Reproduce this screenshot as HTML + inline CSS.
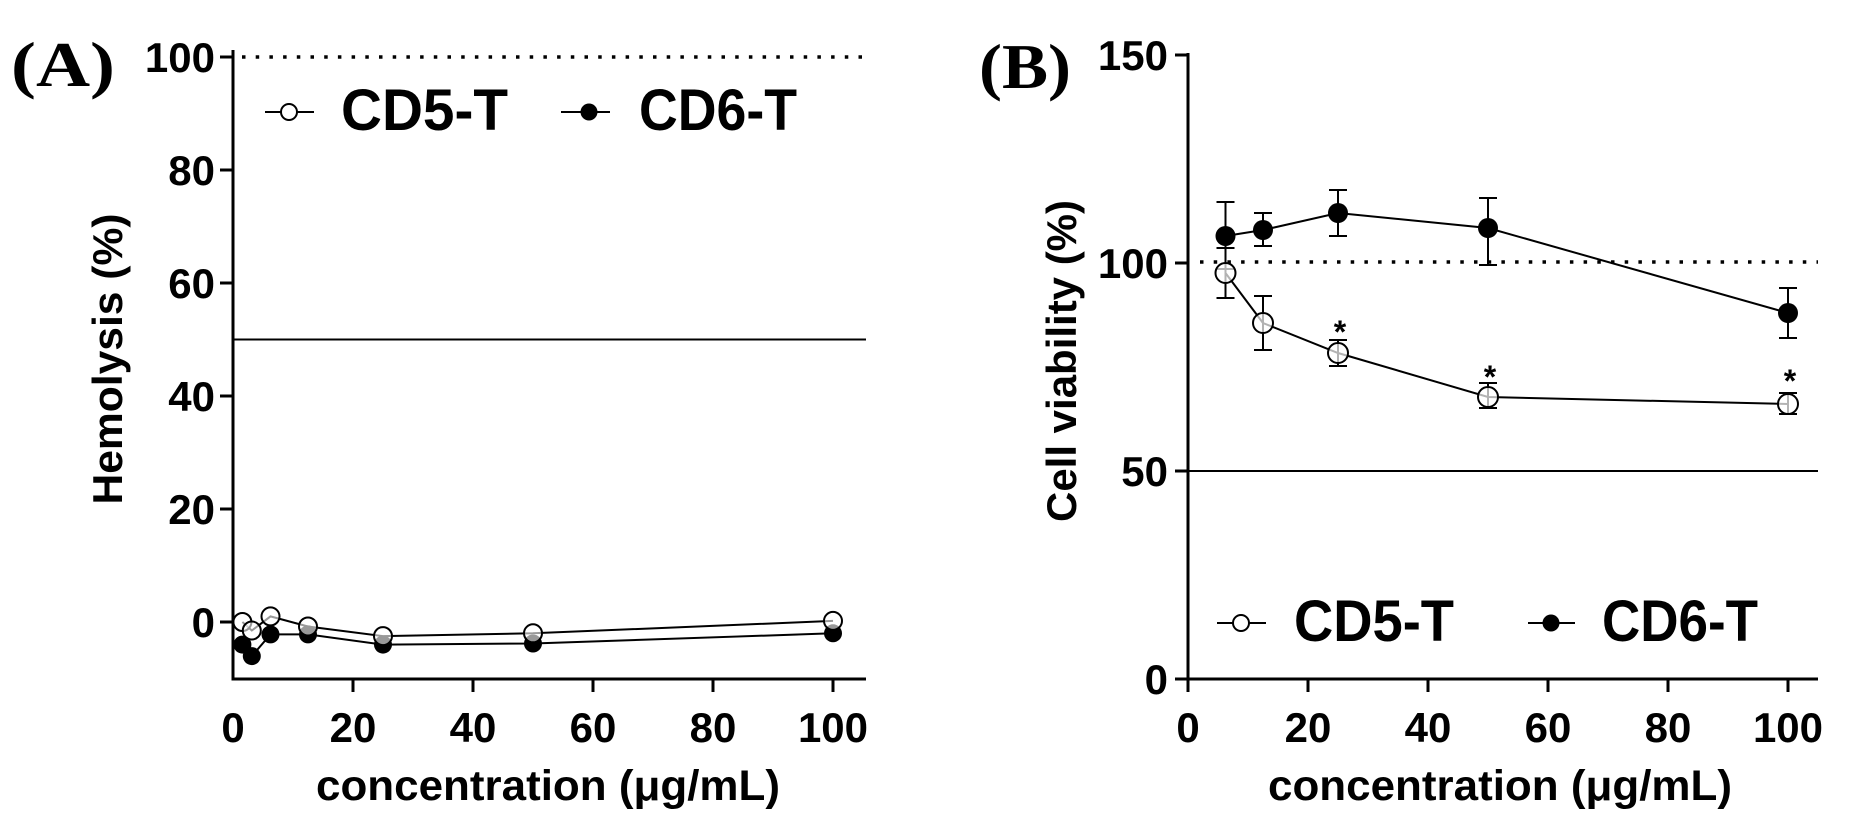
<!DOCTYPE html>
<html><head><meta charset="utf-8"><style>
html,body{margin:0;padding:0;background:#fff;}
svg{display:block;}
text{font-family:"Liberation Sans",Arial,sans-serif;font-weight:bold;fill:#000;}
</style></head><body>
<svg width="1871" height="837" viewBox="0 0 1871 837" xmlns="http://www.w3.org/2000/svg">
<!-- ===== Panel A ===== -->
<text x="11" y="86" style="font-family:'Liberation Serif',serif;font-size:64px" textLength="104" lengthAdjust="spacingAndGlyphs">(A)</text>
<g stroke="#000" stroke-width="3" fill="none">
  <line x1="233" y1="50" x2="233" y2="680"/>
  <line x1="231.5" y1="679" x2="866" y2="679"/>
  <line x1="220" y1="57" x2="233" y2="57"/>
  <line x1="220" y1="170" x2="233" y2="170"/>
  <line x1="220" y1="283" x2="233" y2="283"/>
  <line x1="220" y1="396" x2="233" y2="396"/>
  <line x1="220" y1="509" x2="233" y2="509"/>
  <line x1="220" y1="622" x2="233" y2="622"/>
  <line x1="353" y1="679" x2="353" y2="692"/>
  <line x1="473" y1="679" x2="473" y2="692"/>
  <line x1="593" y1="679" x2="593" y2="692"/>
  <line x1="713" y1="679" x2="713" y2="692"/>
  <line x1="833" y1="679" x2="833" y2="692"/>
</g>
<line x1="242" y1="57" x2="866" y2="57" stroke="#000" stroke-width="3.5" stroke-dasharray="3.5 10.2"/>
<line x1="233" y1="339.5" x2="866" y2="339.5" stroke="#000" stroke-width="2"/>
<g font-size="42" text-anchor="end">
  <text x="215" y="72">100</text>
  <text x="215" y="185">80</text>
  <text x="215" y="298">60</text>
  <text x="215" y="411">40</text>
  <text x="215" y="524">20</text>
  <text x="215" y="637">0</text>
</g>
<g font-size="42" text-anchor="middle">
  <text x="233" y="742">0</text>
  <text x="353" y="742">20</text>
  <text x="473" y="742">40</text>
  <text x="593" y="742">60</text>
  <text x="713" y="742">80</text>
  <text x="833" y="742">100</text>
</g>
<text x="548" y="800" font-size="43" text-anchor="middle" textLength="464" lengthAdjust="spacingAndGlyphs">concentration (μg/mL)</text>
<text transform="translate(122,359) rotate(-90)" font-size="42" text-anchor="middle" textLength="291" lengthAdjust="spacingAndGlyphs">Hemolysis (%)</text>
<!-- A data -->
<polyline points="242.4,644.6 251.8,656.1 270.5,634.4 308,634.4 383,644.6 533,643.5 833,633.3" fill="none" stroke="#000" stroke-width="2"/>
<polyline points="242.4,622 251.8,630.5 270.5,616.4 308,626.5 383,636.1 533,633.3 833,620.9" fill="none" stroke="#000" stroke-width="2"/>
<g fill="#000">
  <circle cx="242.4" cy="644.6" r="9"/><circle cx="251.8" cy="656.1" r="9"/><circle cx="270.5" cy="634.4" r="9"/><circle cx="308" cy="634.4" r="9"/><circle cx="383" cy="644.6" r="9"/><circle cx="533" cy="643.5" r="9"/><circle cx="833" cy="633.3" r="9"/>
</g>
<g fill="#fff" fill-opacity="0.6" stroke="#000" stroke-width="2">
  <circle cx="242.4" cy="622" r="9"/><circle cx="251.8" cy="630.5" r="9"/><circle cx="270.5" cy="616.4" r="9"/><circle cx="308" cy="626.5" r="9"/><circle cx="383" cy="636.1" r="9"/><circle cx="533" cy="633.3" r="9"/><circle cx="833" cy="620.9" r="9"/>
</g>
<!-- A legend -->
<line x1="265" y1="112" x2="314" y2="112" stroke="#000" stroke-width="2"/>
<circle cx="289" cy="112" r="8" fill="#fff" stroke="#000" stroke-width="2"/>
<text x="341" y="130" font-size="58" textLength="167" lengthAdjust="spacingAndGlyphs">CD5-T</text>
<line x1="561" y1="112" x2="610" y2="112" stroke="#000" stroke-width="2"/>
<circle cx="589" cy="112" r="8.5" fill="#000"/>
<text x="639" y="130" font-size="58" textLength="158" lengthAdjust="spacingAndGlyphs">CD6-T</text>

<!-- ===== Panel B ===== -->
<text x="979" y="88" style="font-family:'Liberation Serif',serif;font-size:64px" textLength="92" lengthAdjust="spacingAndGlyphs">(B)</text>
<g stroke="#000" stroke-width="3" fill="none">
  <line x1="1188" y1="53" x2="1188" y2="680"/>
  <line x1="1186.5" y1="679" x2="1818" y2="679"/>
  <line x1="1175" y1="55" x2="1188" y2="55"/>
  <line x1="1175" y1="263" x2="1188" y2="263"/>
  <line x1="1175" y1="471" x2="1188" y2="471"/>
  <line x1="1175" y1="679" x2="1188" y2="679"/>
  <line x1="1188" y1="679" x2="1188" y2="692"/>
  <line x1="1308" y1="679" x2="1308" y2="692"/>
  <line x1="1428" y1="679" x2="1428" y2="692"/>
  <line x1="1548" y1="679" x2="1548" y2="692"/>
  <line x1="1668" y1="679" x2="1668" y2="692"/>
  <line x1="1788" y1="679" x2="1788" y2="692"/>
</g>
<line x1="1200" y1="262" x2="1818" y2="262" stroke="#000" stroke-width="3.5" stroke-dasharray="3.5 10.2"/>
<line x1="1188" y1="471" x2="1818" y2="471" stroke="#000" stroke-width="2"/>
<g font-size="42" text-anchor="end">
  <text x="1168" y="70">150</text>
  <text x="1168" y="278">100</text>
  <text x="1168" y="486">50</text>
  <text x="1168" y="694">0</text>
</g>
<g font-size="42" text-anchor="middle">
  <text x="1188" y="742">0</text>
  <text x="1308" y="742">20</text>
  <text x="1428" y="742">40</text>
  <text x="1548" y="742">60</text>
  <text x="1668" y="742">80</text>
  <text x="1788" y="742">100</text>
</g>
<text x="1500" y="800" font-size="43" text-anchor="middle" textLength="464" lengthAdjust="spacingAndGlyphs">concentration (μg/mL)</text>
<text transform="translate(1076,361) rotate(-90)" font-size="42" text-anchor="middle" textLength="322" lengthAdjust="spacingAndGlyphs">Cell viability (%)</text>
<!-- B error bars -->
<g stroke="#000" stroke-width="2" fill="none">
  <!-- CD6 -->
  <path d="M1225.5,202 V269 M1216.5,202 H1234.5 M1216.5,269 H1234.5"/>
  <path d="M1263,213 V246 M1254,213 H1272 M1254,246 H1272"/>
  <path d="M1338,190 V236 M1329,190 H1347 M1329,236 H1347"/>
  <path d="M1488,198 V265 M1479,198 H1497 M1479,265 H1497"/>
  <path d="M1788,288 V338 M1779,288 H1797 M1779,338 H1797"/>
  <!-- CD5 -->
  <path d="M1225.5,248 V298 M1216.5,248 H1234.5 M1216.5,298 H1234.5"/>
  <path d="M1263,296 V350 M1254,296 H1272 M1254,350 H1272"/>
  <path d="M1338,340 V366 M1329,340 H1347 M1329,366 H1347"/>
  <path d="M1488,383 V408 M1479,383 H1497 M1479,408 H1497"/>
  <path d="M1788,393 V414 M1779,393 H1797 M1779,414 H1797"/>
</g>
<polyline points="1225.5,236 1263,230 1338,213 1488,228 1788,313" fill="none" stroke="#000" stroke-width="2"/>
<polyline points="1225.5,273 1263,323 1338,353 1488,397 1788,404" fill="none" stroke="#000" stroke-width="2"/>
<g fill="#000">
  <circle cx="1225.5" cy="236" r="10"/><circle cx="1263" cy="230" r="10"/><circle cx="1338" cy="213" r="10"/><circle cx="1488" cy="228" r="10"/><circle cx="1788" cy="313" r="10"/>
</g>
<g fill="#fff" fill-opacity="0.7" stroke="#000" stroke-width="2">
  <circle cx="1225.5" cy="273" r="10"/><circle cx="1263" cy="323" r="10"/><circle cx="1338" cy="353" r="10"/><circle cx="1488" cy="397" r="10"/><circle cx="1788" cy="404" r="10"/>
</g>
<g font-size="32" text-anchor="middle">
  <text x="1340" y="343">*</text>
  <text x="1490" y="388">*</text>
  <text x="1790" y="392">*</text>
</g>
<!-- B legend -->
<line x1="1217" y1="623" x2="1266" y2="623" stroke="#000" stroke-width="2"/>
<circle cx="1241" cy="623" r="8" fill="#fff" stroke="#000" stroke-width="2"/>
<text x="1294" y="641" font-size="58" textLength="160" lengthAdjust="spacingAndGlyphs">CD5-T</text>
<line x1="1528" y1="623" x2="1575" y2="623" stroke="#000" stroke-width="2"/>
<circle cx="1551" cy="623" r="8.5" fill="#000"/>
<text x="1602" y="641" font-size="58" textLength="156" lengthAdjust="spacingAndGlyphs">CD6-T</text>
</svg>
</body></html>
